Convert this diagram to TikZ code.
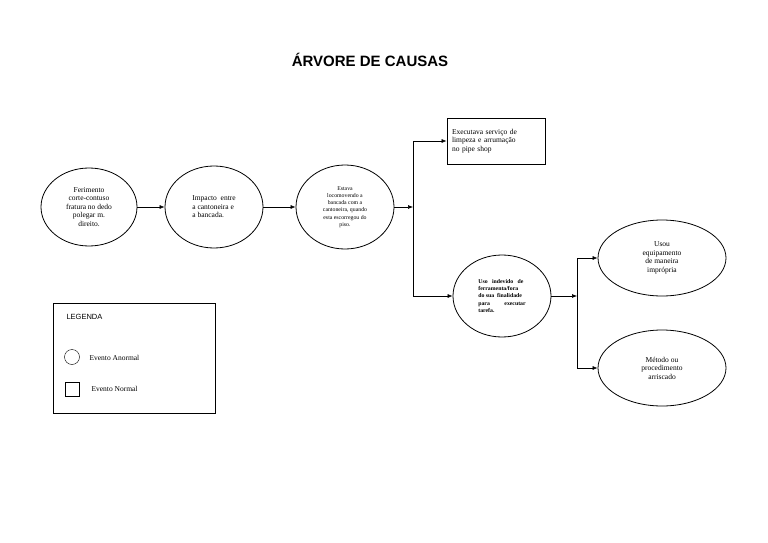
\documentclass[tikz,border=0pt]{standalone}
\usepackage{fontspec}
\setmainfont{Liberation Serif}
\newfontfamily\arialf{Liberation Sans}
\usetikzlibrary{shapes.geometric,arrows.meta}
\begin{document}
\begin{tikzpicture}[x=1pt,y=-1pt,
  ev/.style={draw,thick,ellipse,minimum width=#1,align=center,font=\fontsize{7.5}{8.5}\selectfont,inner sep=0pt},
  arr/.style={-{Latex[length=5pt,width=4pt]},semithick}]
\useasboundingbox[fill=white] (0,0) rectangle (768,543);
\node[font=\arialf\bfseries\fontsize{15}{17}\selectfont] (title) at (370,60) {ÁRVORE DE CAUSAS};
\node[ev=96pt,minimum height=78pt] (e1) at (89,207) {Ferimento\\corte-contuso\\fratura no dedo\\polegar m.\\direito.};
\node[ev=98pt,minimum height=82pt,align=left] (e2) at (214,207) {Impacto\ \ entre\\a cantoneira e\\a bancada.};
\node[ev=98pt,minimum height=84pt,font=\fontsize{5.8}{7.2}\selectfont] (e3) at (345,207) {Estava\\locomovendo a\\bancada com a\\cantoneira, quando\\esta escorregou do\\piso.};
\node[draw,thick,minimum width=98pt,minimum height=46pt,align=left,font=\fontsize{7.5}{8.5}\selectfont,text width=88pt] (b1) at (496,141) {Executava serviço de\\limpeza e arrumação\\no pipe shop};
\node[ev=98pt,minimum height=82pt,align=left,font=\fontsize{5.8}{7.2}\selectfont\bfseries] (e4) at (502,296) {Uso\ \ \ indevido\ \ \ de\\ferramenta/fora\\do\ sua\ \ finalidade\\para\qquad\ \ executar\\tarefa.};
\node[ev=128pt,minimum height=76pt] (e5) at (662,258) {Usou\\equipamento\\de maneira\\imprópria};
\node[ev=128pt,minimum height=76pt] (e6) at (662,368) {Método ou\\procedimento\\arriscado};
\coordinate (j1) at (413,207);
\coordinate (j2) at (577,296);
\draw[arr] (e1) -- (e2);
\draw[arr] (e2) -- (e3);
\draw[arr] (e3.east) -- (j1);
\draw[arr] (j1) |- (b1.west);
\draw[arr] (j1) |- (e4.west);
\draw[arr] (e4.east) -- (j2);
\draw[arr] (j2) |- (e5.west);
\draw[arr] (j2) |- (e6.west);
\node[draw,thick,minimum width=162pt,minimum height=110pt] (leg) at (134,358) {};
\node[anchor=west,font=\arialf\fontsize{7.5}{8.5}\selectfont] (lt) at (63,317) {LEGENDA};
\node[draw,circle,minimum size=15pt,inner sep=0pt] (lc) at (72,357) {};
\node[anchor=west,font=\fontsize{7.5}{8.5}\selectfont] (lct) at (86,358) {Evento Anormal};
\node[draw,minimum size=14pt,inner sep=0pt] (ls) at (72,389) {};
\node[anchor=west,font=\fontsize{7.5}{8.5}\selectfont] (lst) at (88,389) {Evento Normal};
\end{tikzpicture}
\end{document}
